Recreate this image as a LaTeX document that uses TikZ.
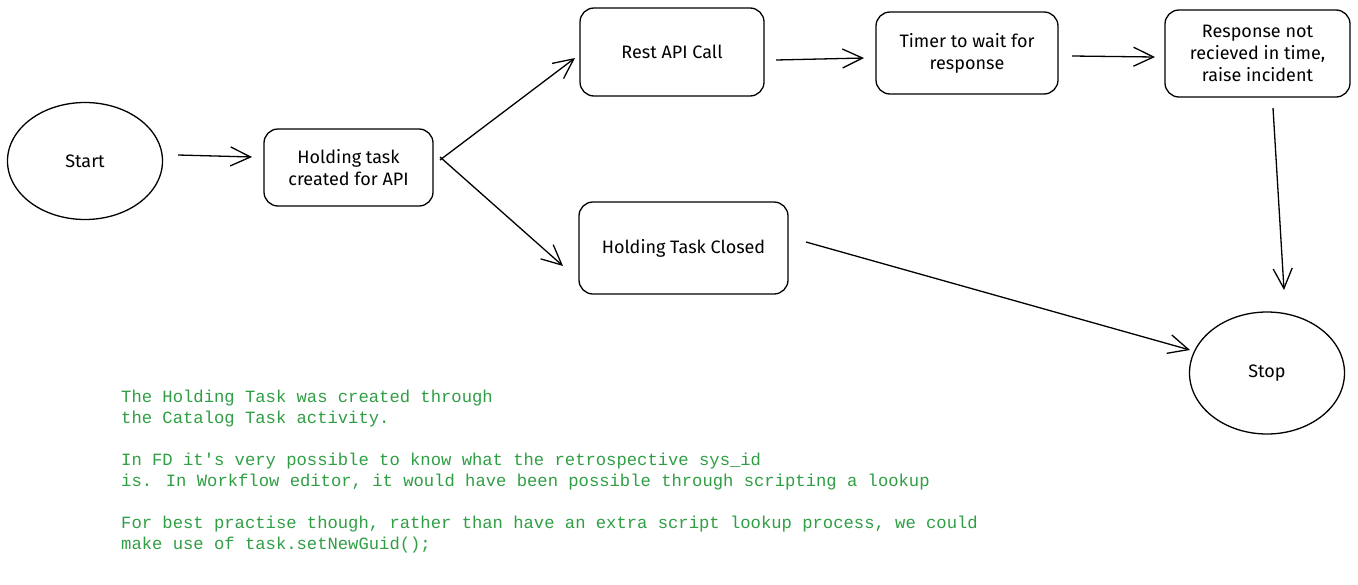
\documentclass[tikz,border=0pt]{standalone}
\usepackage{fontspec}
\setmainfont{Fira Sans}
\newfontfamily\codefont{Liberation Mono}
\usetikzlibrary{arrows.meta,shapes.geometric}
\definecolor{notegreen}{HTML}{2F9E44}
\begin{document}
\begin{tikzpicture}[x=1pt,y=-1pt,
  label font/.style={font=\fontsize{18}{22}\selectfont},
  box/.style={draw, line width=1.3pt, rounded corners=14pt, align=center, label font, inner sep=0pt},
  oval/.style={draw, line width=1.3pt, ellipse, label font},
  conn/.style={line width=1.3pt, -{Straight Barb[length=20pt,width=19pt,line width=1.3pt]}}]
\useasboundingbox (0,0) rectangle (1358,584);
% nodes
\node[oval, minimum width=155pt, minimum height=117pt] (start) at (85,161) {Start};
\node[box, minimum width=169pt, minimum height=77pt] (hold) at (348.5,167.5) {Holding task\\created for API};
\node[box, minimum width=184pt, minimum height=88pt] (rest) at (672,52) {Rest API Call};
\node[box, minimum width=209pt, minimum height=92pt] (closed) at (683.5,248) {Holding Task Closed};
\node[box, minimum width=182pt, minimum height=82pt] (timer) at (967,53) {Timer to wait for\\response};
\node[box, minimum width=185pt, minimum height=87pt] (resp) at (1257.5,53.5) {Response not\\recieved in time,\\raise incident};
\node[oval, minimum width=155pt, minimum height=122pt] (stop) at (1267,373) {Stop};
% connector end points
\coordinate (a1) at (178,155); \coordinate (a2) at (252,157);
\coordinate (b1) at (440,160); \coordinate (b2) at (575,58);
\coordinate (c1) at (440,157); \coordinate (c2) at (563,266);
\coordinate (d1) at (776,60); \coordinate (d2) at (864,58);
\coordinate (e1) at (1072,56); \coordinate (e2) at (1155,57);
\coordinate (f1) at (1273,108); \coordinate (f2) at (1284,290);
\coordinate (g1) at (806,242); \coordinate (g2) at (1190,350);
\draw[conn] (a1) -- (a2);
\draw[conn] (b1) -- (b2);
\draw[conn] (c1) -- (c2);
\draw[conn] (d1) -- (d2);
\draw[conn] (e1) -- (e2);
\draw[conn] (f1) -- (f2);
\draw[conn] (g1) -- (g2);
% note
\node[anchor=north west, align=left, text=notegreen, font=\codefont\fontsize{17.2}{21}\selectfont, inner sep=0pt] (note) at (121,390) {The Holding Task was created through\\the Catalog Task activity.\\[21pt]In FD it's very possible to know what the retrospective sys\_id\\is. In Workflow editor, it would have been possible through scripting a lookup\\[21pt]For best practise though, rather than have an extra script lookup process, we could\\make use of task.setNewGuid();};
\end{tikzpicture}
\end{document}
